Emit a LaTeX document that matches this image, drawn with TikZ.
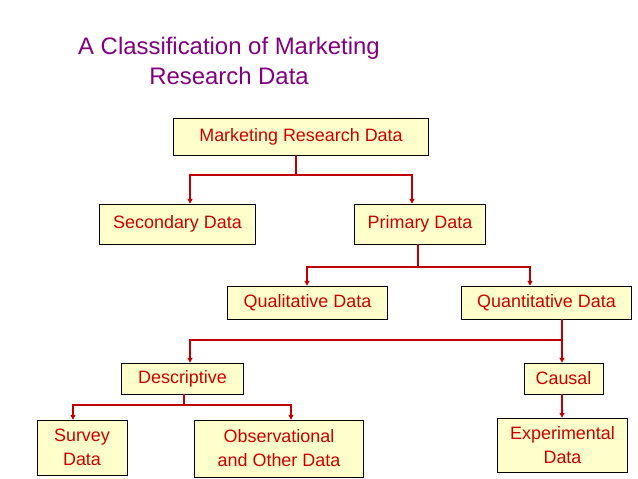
\documentclass[tikz,border=0pt]{standalone}
\usepackage{fontspec}
\setmainfont{Liberation Sans}
\usetikzlibrary{arrows.meta}
\definecolor{boxfill}{RGB}{255,255,204}
\definecolor{txtred}{RGB}{204,0,0}
\definecolor{linered}{RGB}{192,0,0}
\definecolor{ttl}{RGB}{128,0,128}
\tikzset{
  box/.style={draw=black, fill=boxfill, text=txtred, font=\fontsize{18}{24}\selectfont, inner sep=0pt, align=center, line width=0.6pt},
  conn/.style={draw=linered, line width=1.3pt},
  arr/.style={conn, -{Triangle[width=5pt,length=5pt]}}
}
\begin{document}
\begin{tikzpicture}[x=1bp,y=-1bp]
\useasboundingbox (0,0) rectangle (638,479);
\node[text=ttl, font=\fontsize{24}{30}\selectfont, align=center] (title) at (229,61) {A Classification of Marketing\\Research Data};
\newcommand\bx[6]{\node[box, minimum width=#4-#3, minimum height=#6-#5] (#1) at ({(#3+#4)/2},{(#5+#6)/2}) {#2};}
\bx{mrd}{Marketing Research Data}{173}{429}{118}{155}
\bx{sec}{Secondary Data}{99}{256}{204}{244}
\bx{pri}{Primary Data}{354}{486}{204}{244}
\bx{qual}{Qualitative Data}{227}{388}{286}{319}
\bx{quan}{Quantitative Data}{461}{632}{286}{319}
\bx{desc}{Descriptive}{121}{244}{363}{394}
\bx{caus}{Causal}{524}{603}{363}{394}
\bx{surv}{Survey\\Data}{37}{127}{420}{475}
\bx{obs}{Observational\\and Other Data}{194}{364}{420}{477}
\bx{exp}{Experimental\\Data}{497}{628}{418}{472}
\coordinate (j1) at (296,175);
\coordinate (j2) at (418,267);
\coordinate (j3) at (562,340);
\coordinate (j4) at (184,405);
\draw[conn] (mrd.south -| j1) -- (j1);
\draw[arr] (j1) -| (sec.north -| 190,0);
\draw[arr] (j1) -| (pri.north -| 412,0);
\draw[conn] (pri.south -| j2) -- (j2);
\draw[arr] (j2) -| (qual.north -| 307,0);
\draw[arr] (j2) -| (quan.north -| 530,0);
\draw[conn] (quan.south -| j3) -- (j3);
\draw[arr] (j3) -| (desc.north -| 190,0);
\draw[arr] (j3) -- (caus.north -| j3);
\draw[conn] (desc.south -| j4) -- (j4);
\draw[arr] (j4) -| (surv.north -| 73,0);
\draw[arr] (j4) -| (obs.north -| 291,0);
\draw[arr] (caus.south -| j3) -- (exp.north -| j3);
\end{tikzpicture}
\end{document}
